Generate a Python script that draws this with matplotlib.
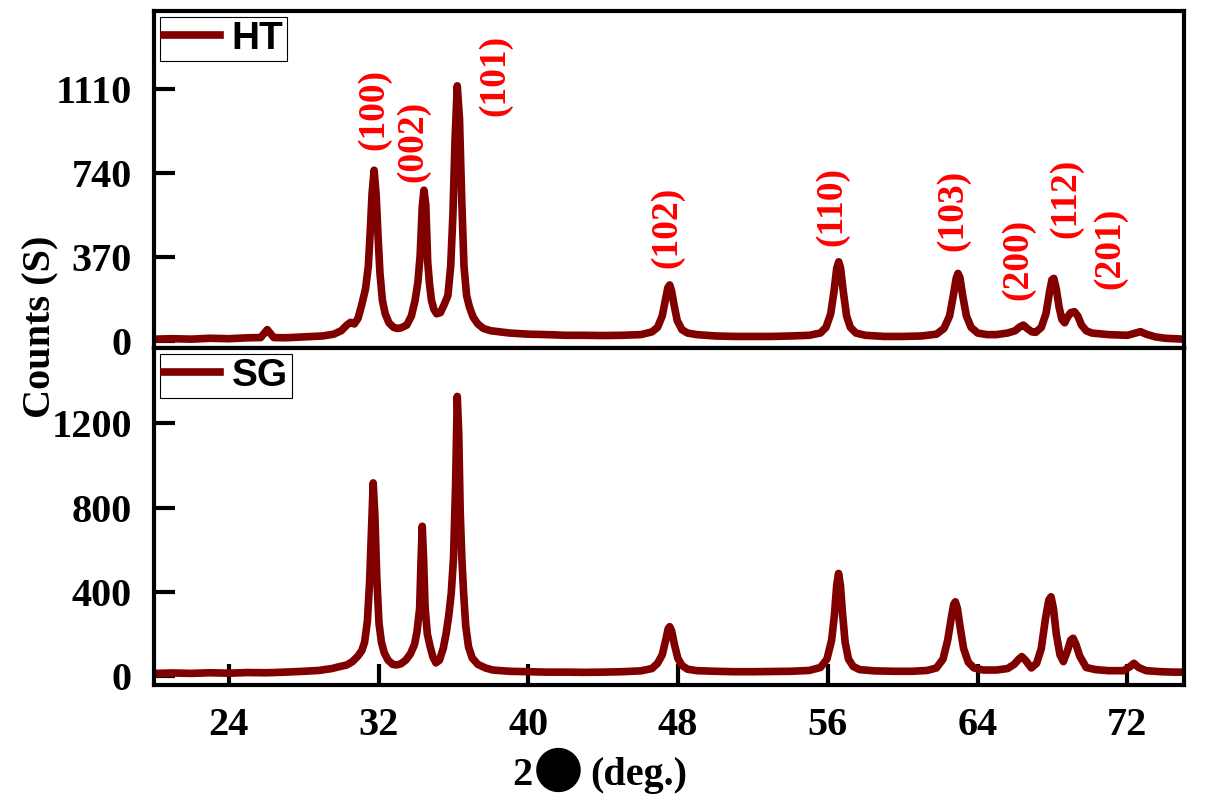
import matplotlib
matplotlib.use('Agg')
import matplotlib.pyplot as plt

# HT sample (top panel), 2theta in degrees and counts
ht_theta = [20.0, 21.0, 22.0, 23.0, 24.0, 25.0, 25.7, 25.9, 26.05, 26.2, 26.4, 27.0, 28.0, 29.0,
            29.6, 30.0, 30.3, 30.5, 30.7, 30.9, 31.1, 31.3, 31.45, 31.55, 31.65, 31.76, 31.87,
            31.97, 32.07, 32.2, 32.35, 32.55, 32.8, 33.0, 33.2, 33.5, 33.75, 33.95, 34.1, 34.22,
            34.33, 34.42, 34.52, 34.62, 34.72, 34.82, 34.95, 35.1, 35.3, 35.5, 35.7, 35.85, 35.97,
            36.08, 36.2, 36.32, 36.44, 36.56, 36.7, 36.85, 37.05, 37.3, 37.6, 38.0, 39.0, 40.0,
            41.0, 42.0, 43.0, 44.0, 45.0, 46.0, 46.6, 46.9, 47.15, 47.32, 47.45, 47.55, 47.65,
            47.78, 47.95, 48.2, 48.5, 49.0, 50.0, 51.0, 52.0, 53.0, 54.0, 55.0, 55.6, 55.9, 56.15,
            56.33, 56.47, 56.58, 56.68, 56.82, 57.0, 57.2, 57.5, 58.0, 59.0, 60.0, 61.0, 61.8,
            62.2, 62.5, 62.7, 62.85, 62.95, 63.05, 63.2, 63.4, 63.65, 64.0, 64.5, 65.0, 65.6,
            66.0, 66.25, 66.44, 66.65, 66.9, 67.1, 67.4, 67.65, 67.85, 67.97, 68.07, 68.2, 68.35,
            68.5, 68.65, 68.8, 68.97, 69.17, 69.35, 69.55, 69.8, 70.1, 71.0, 72.0, 72.45, 72.7,
            73.0, 73.5, 74.0, 74.5, 75.0]
ht_counts = [8, 10, 8, 12, 10, 14, 15, 35, 50, 35, 15, 14, 18, 22,
             30, 45, 70, 82, 75, 100, 160, 230, 330, 480, 650, 753, 640,
             460, 300, 180, 120, 80, 60, 55, 58, 70, 110, 180, 260, 380,
             590, 665, 600, 350, 250, 180, 140, 120, 125, 160, 200, 330, 560,
             880, 1125, 980, 620, 330, 200, 150, 105, 75, 55, 45, 35, 30,
             28, 25, 25, 24, 25, 28, 40, 60, 110, 180, 235, 247, 220,
             160, 90, 50, 35, 28, 22, 20, 20, 20, 22, 25, 35, 60, 120,
             220, 320, 349, 320, 220, 110, 60, 35, 25, 20, 20, 22, 30,
             55, 110, 200, 275, 298, 280, 200, 110, 60, 35, 28, 28, 35,
             45, 62, 70, 55, 40, 38, 60, 120, 220, 270, 276, 230, 150,
             95, 80, 105, 125, 129, 110, 70, 45, 35, 28, 25, 35, 41,
             30, 18, 12, 10, 8]

# SG sample (bottom panel)
sg_theta = [20.0, 21.0, 22.0, 23.0, 24.0, 25.0, 26.0, 27.0, 28.0, 28.8, 29.5, 29.9, 30.3, 30.6,
            30.9, 31.1, 31.25, 31.4, 31.52, 31.62, 31.71, 31.8, 31.9, 32.02, 32.15, 32.3, 32.5,
            32.75, 32.96, 33.2, 33.45, 33.7, 33.92, 34.05, 34.19, 34.27, 34.33, 34.4, 34.48, 34.6,
            34.75, 34.9, 35.06, 35.25, 35.45, 35.61, 35.75, 35.88, 36.0, 36.11, 36.2, 36.28, 36.36,
            36.45, 36.54, 36.65, 36.8, 37.0, 37.3, 37.7, 38.1, 39.0, 40.0, 41.0, 42.0, 43.0, 44.0,
            45.0, 46.0, 46.6, 46.9, 47.15, 47.35, 47.47, 47.55, 47.65, 47.8, 47.98, 48.2, 48.5,
            49.0, 50.0, 51.0, 52.0, 53.0, 54.0, 55.0, 55.6, 55.95, 56.2, 56.35, 56.47, 56.57,
            56.67, 56.78, 56.92, 57.1, 57.35, 57.7, 58.5, 59.5, 60.5, 61.3, 61.8, 62.15, 62.4,
            62.6, 62.72, 62.81, 62.92, 63.05, 63.25, 63.5, 63.8, 64.3, 65.0, 65.6, 65.95, 66.2,
            66.36, 66.55, 66.87, 67.15, 67.4, 67.62, 67.8, 67.92, 68.05, 68.2, 68.4, 68.58, 68.8,
            68.97, 69.1, 69.25, 69.45, 69.8, 70.3, 71.0, 71.8, 72.15, 72.35, 72.6, 73.0, 73.8,
            74.5, 75.0]
sg_counts = [12, 14, 12, 15, 13, 16, 15, 18, 22, 26, 35, 44, 52, 68,
             95, 120, 160, 260, 450, 700, 917, 760, 470, 250, 160, 110, 75,
             55, 52, 58, 75, 105, 150, 210, 320, 560, 711, 560, 330, 200,
             140, 90, 62, 75, 130, 204, 290, 394, 560, 900, 1328, 1150, 774,
             550, 394, 240, 139, 85, 55, 38, 28, 22, 20, 18, 18, 17, 18,
             20, 24, 35, 60, 100, 175, 225, 234, 215, 150, 85, 50, 32,
             25, 22, 20, 20, 21, 22, 26, 40, 80, 170, 290, 430, 487,
             430, 300, 160, 80, 45, 30, 24, 22, 22, 26, 38, 80, 170,
             280, 340, 352, 320, 240, 130, 65, 38, 28, 28, 35, 55, 80,
             92, 75, 38, 60, 130, 270, 360, 376, 320, 200, 100, 68, 120,
             170, 179, 150, 95, 40, 30, 25, 25, 45, 60, 40, 25, 20,
             18, 18]

# Miller indices shown over the HT pattern
hkl_labels = ['(100)', '(002)', '(101)', '(102)', '(110)', '(103)', '(200)', '(112)', '(201)']
hkl_theta = [31.75, 33.83, 38.21, 47.40, 56.21, 62.68, 66.15, 68.71, 71.06]
hkl_counts = [1022, 881, 1172, 502, 595, 577, 361, 630, 410]

x_ticks = [24, 32, 40, 48, 56, 64, 72]
ht_yticks = [0, 370, 740, 1110]
sg_yticks = [0, 400, 800, 1200]

line_color = '#800000'

plt.rcParams['font.family'] = ['Liberation Serif', 'DejaVu Serif']
plt.rcParams['font.weight'] = 'bold'

fig = plt.figure(figsize=(12.05, 8.05), dpi=100)
ax_top = fig.add_axes([0.1278, 0.5677, 0.8544, 0.4186])
ax_bot = fig.add_axes([0.1278, 0.1491, 0.8544, 0.4186])

ax_top.plot(ht_theta, ht_counts, color=line_color, lw=5.5, label='HT')
ax_bot.plot(sg_theta, sg_counts, color=line_color, lw=5.5, label='SG')

for lab, x, y in zip(hkl_labels, hkl_theta, hkl_counts):
    ax_top.text(x, y, lab, rotation=90, ha='center', va='center',
                color='red', fontsize=27, fontweight='bold')

ax_top.set_ylim(-31, 1455)
ax_bot.set_ylim(-43, 1558)
ax_top.set_yticks(ht_yticks)
ax_bot.set_yticks(sg_yticks)

for ax in (ax_top, ax_bot):
    ax.set_xlim(20, 75)
    ax.set_xticks(x_ticks)
    for sp in ax.spines.values():
        sp.set_linewidth(3)
    ax.tick_params(direction='in', length=15, width=3, labelsize=29, pad=16)
    leg = ax.legend(loc='upper left', frameon=True, fancybox=False, framealpha=1,
                    edgecolor='black', handlelength=1.45, handletextpad=0.3,
                    borderpad=0.1, borderaxespad=0.15,
                    prop={'family': 'Liberation Sans', 'weight': 'bold', 'size': 28})
    leg.get_frame().set_linewidth(0.8)

ax_top.tick_params(axis='x', bottom=False, labelbottom=False)

# axis titles
fig.text(41 / 1205, 1 - 327 / 805, 'Counts (S)', rotation=90, ha='center', va='center',
         fontsize=29, fontweight='bold')
fig.text(512 / 1205, 1 - 785 / 805, '2', ha='left', va='baseline', fontsize=29, fontweight='bold')
fig.text(558 / 1205, 1 - 768 / 805, '\u25cf', ha='center', va='center', fontsize=42,
         family='DejaVu Sans')
fig.text(590 / 1205, 1 - 785 / 805, '(deg.)', ha='left', va='baseline', fontsize=29,
         fontweight='bold')

plt.savefig('out.png', dpi=100)
plt.close()
